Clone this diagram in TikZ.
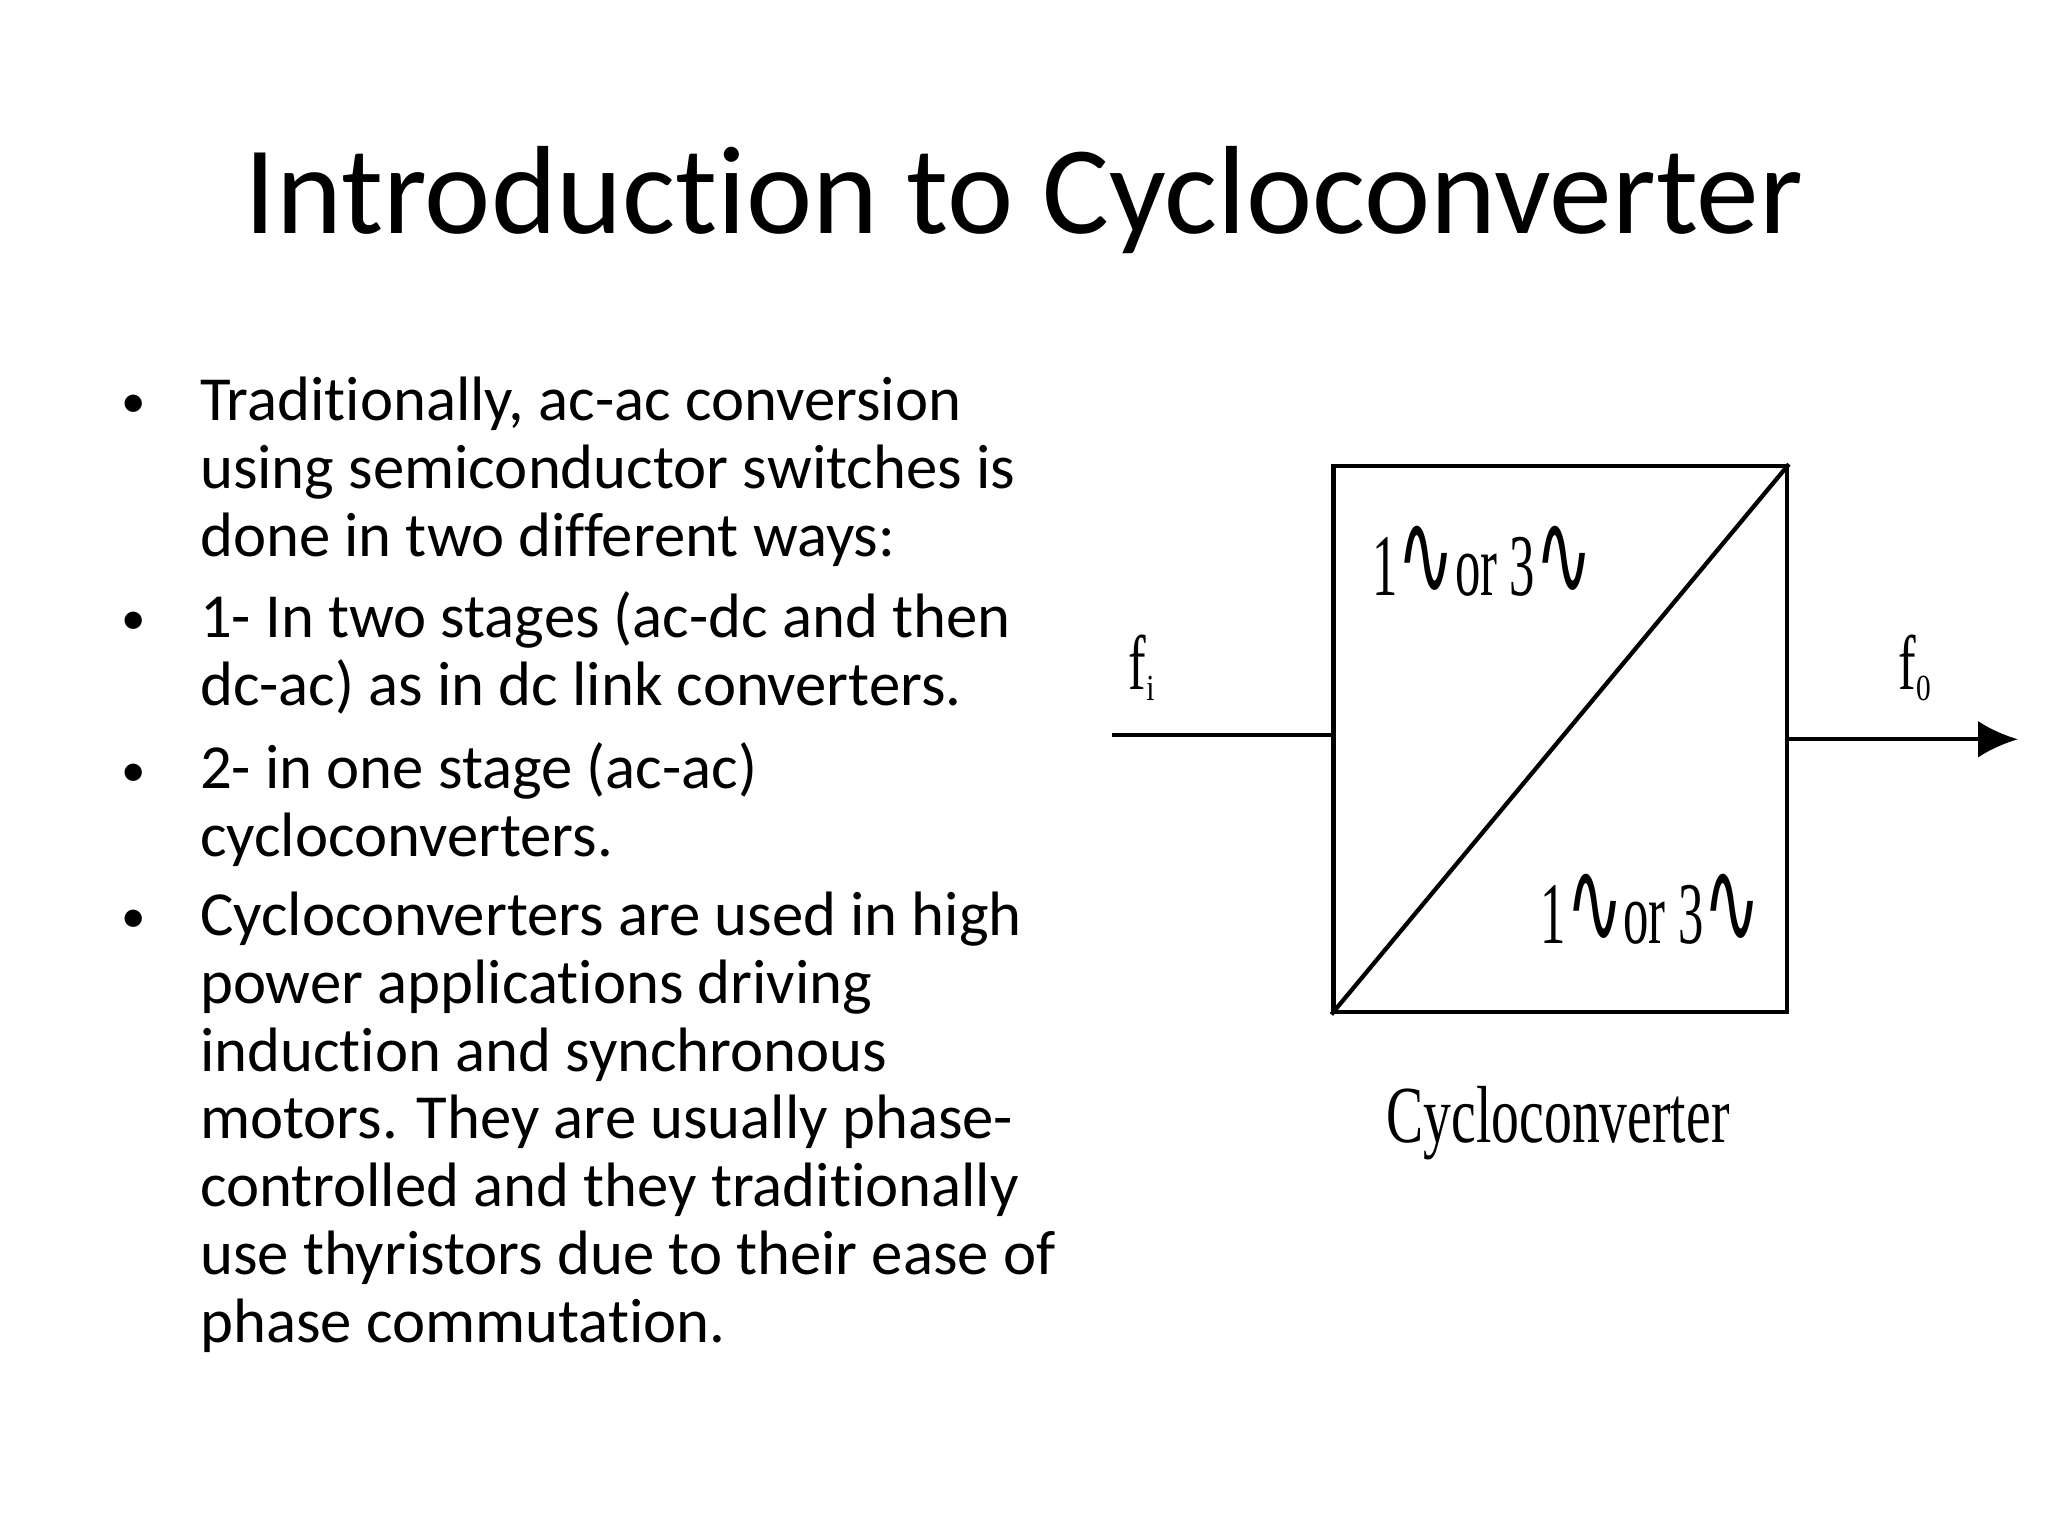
\documentclass[tikz,border=0pt]{standalone}
\usepackage{fontspec}
\usetikzlibrary{arrows.meta}
\setmainfont{Carlito}[RawFeature={-liga}]
\newfontfamily\djvfont{DejaVu Sans}
\newfontfamily\tmsfont{Liberation Serif}
\begin{document}
\begin{tikzpicture}[x=0.03cm,y=-0.03cm,
 body/.style={anchor=base west,inner sep=0,font=\fontsize{41}{44}\selectfont},
 bul/.style={anchor=base west,inner sep=0,font=\fontsize{32}{44}\selectfont},
 lab/.style={inner sep=0,font=\tmsfont\fontsize{46}{46}\selectfont},
 ln/.style={line width=2.8pt}]
\useasboundingbox[fill=white] (0,0) rectangle (1568,1176);
\node[inner sep=0,anchor=base,font=\fontsize{82}{82}\selectfont] (title) at (784,179) {Introduction to Cycloconverter};
\foreach \y in {320,486,602,714} \node[bul] at (93,\y) {•};
\foreach \t [count=\i from 0] in {Traditionally{,} ac-ac conversion,using semiconductor switches is,done in two different ways:}
  \node[body] (a\i) at (153,322+52*\i) {\t};
\foreach \t [count=\i from 0] in {1- In two stages (ac-dc and then,dc-ac) as in dc link converters.}
  \node[body] (b\i) at (153,488+52*\i) {\t};
\foreach \t [count=\i from 0] in {2- in one stage (ac-ac),cycloconverters.}
  \node[body] (c\i) at (153,604+52*\i) {\t};
\foreach \t [count=\i from 0] in {Cycloconverters are used in high,power applications driving,induction and synchronous,motors. They are usually phase-,controlled and they traditionally,use thyristors due to their ease of,phase commutation.}
  \node[body] (d\i) at (153,716+52*\i) {\t};
% diagram
\node[draw,ln,minimum width=347*0.03cm,minimum height=418*0.03cm,inner sep=0] (box) at (1194.5,566) {};
\draw[ln] (box.south west) -- (box.north east);
\coordinate (in) at (851,563);
\coordinate (out) at (1545,566);
\draw[ln] (in) -- (box.west|-in);
\draw[ln,-{Latex[length=26pt,width=24pt]}] (box.east|-out) -- (out);
\node[lab,anchor=base] (fi) at (874,528) {\scalebox{0.75}[1.1]{f}\raisebox{-7pt}{\fontsize{24}{24}\selectfont\scalebox{0.8}[1]{i}}};
\node[lab,anchor=base] (fo) at (1466,528) {\scalebox{0.75}[1.1]{f}\raisebox{-7pt}{\fontsize{24}{24}\selectfont\scalebox{0.8}[1]{0}}};
\node[lab] (t1) at (1135,430) {\scalebox{0.72}[1.25]{1{\djvfont\fontsize{62}{62}\selectfont ∿}or 3{\djvfont\fontsize{62}{62}\selectfont ∿}}};
\node[lab] (t2) at (1264,696) {\scalebox{0.72}[1.25]{1{\djvfont\fontsize{62}{62}\selectfont ∿}or 3{\djvfont\fontsize{62}{62}\selectfont ∿}}};
\node[lab] (cap) at (1193,860) {\scalebox{0.79}[1.15]{Cycloconverter}};
\end{tikzpicture}
\end{document}
